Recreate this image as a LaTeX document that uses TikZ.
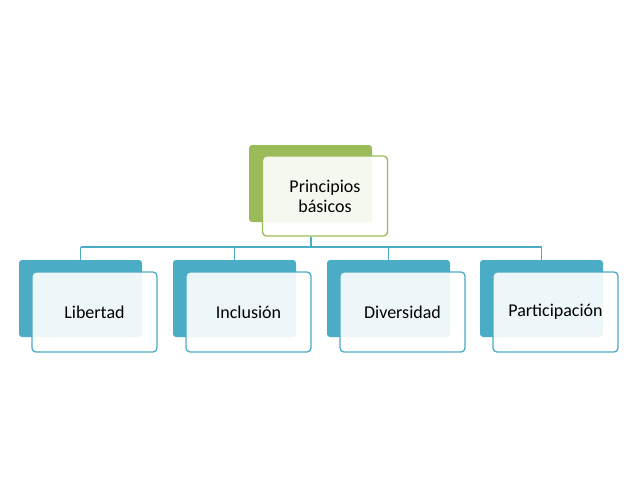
\documentclass[tikz,border=0pt]{standalone}
\usepackage{fontspec}
\setmainfont{Carlito}
\usetikzlibrary{positioning}
\definecolor{leafblue}{HTML}{4BACC6}
\definecolor{rootgreen}{HTML}{9BBB59}
\tikzstyle{back}=[rectangle, rounded corners=3pt, minimum width=123pt, minimum height=77pt, inner sep=0pt]
\tikzstyle{front}=[rectangle, rounded corners=4pt, minimum width=125pt, minimum height=80pt, fill=white, fill opacity=0.9, text opacity=1, line width=1.3pt, font=\fontsize{18}{20}\selectfont, align=center]
\tikzstyle{link}=[leafblue, line width=1.3pt]

\begin{document}
\begin{tikzpicture}[x=1pt, y=-1pt]
  \useasboundingbox (0,0) rectangle (640,480);
  \node[back, fill=rootgreen] (rootb) at (310.5,183.5) {};
  \node[front, draw=rootgreen] (root) at (325,196) {Principios\\básicos};
  \foreach \name/\x/\txt in {lib/80.5/Libertad, inc/234.5/Inclusión, div/388.5/Diversidad, par/541.5/Participación} {
    \node[back, fill=leafblue] (\name b) at (\x,298.5) {};
    \node[front, draw=leafblue] (\name) at (\x+14,312) {\txt};
  }
  \coordinate (bus) at (311,247);
  \draw[link] (root.south -| bus) -- (bus);
  \draw[link] (libb.north |- bus) -- (parb.north |- bus);
  \foreach \name in {lib, inc, div, par}
    \draw[link] (\name b.north |- bus) -- (\name b.north);
\end{tikzpicture}
\end{document}
